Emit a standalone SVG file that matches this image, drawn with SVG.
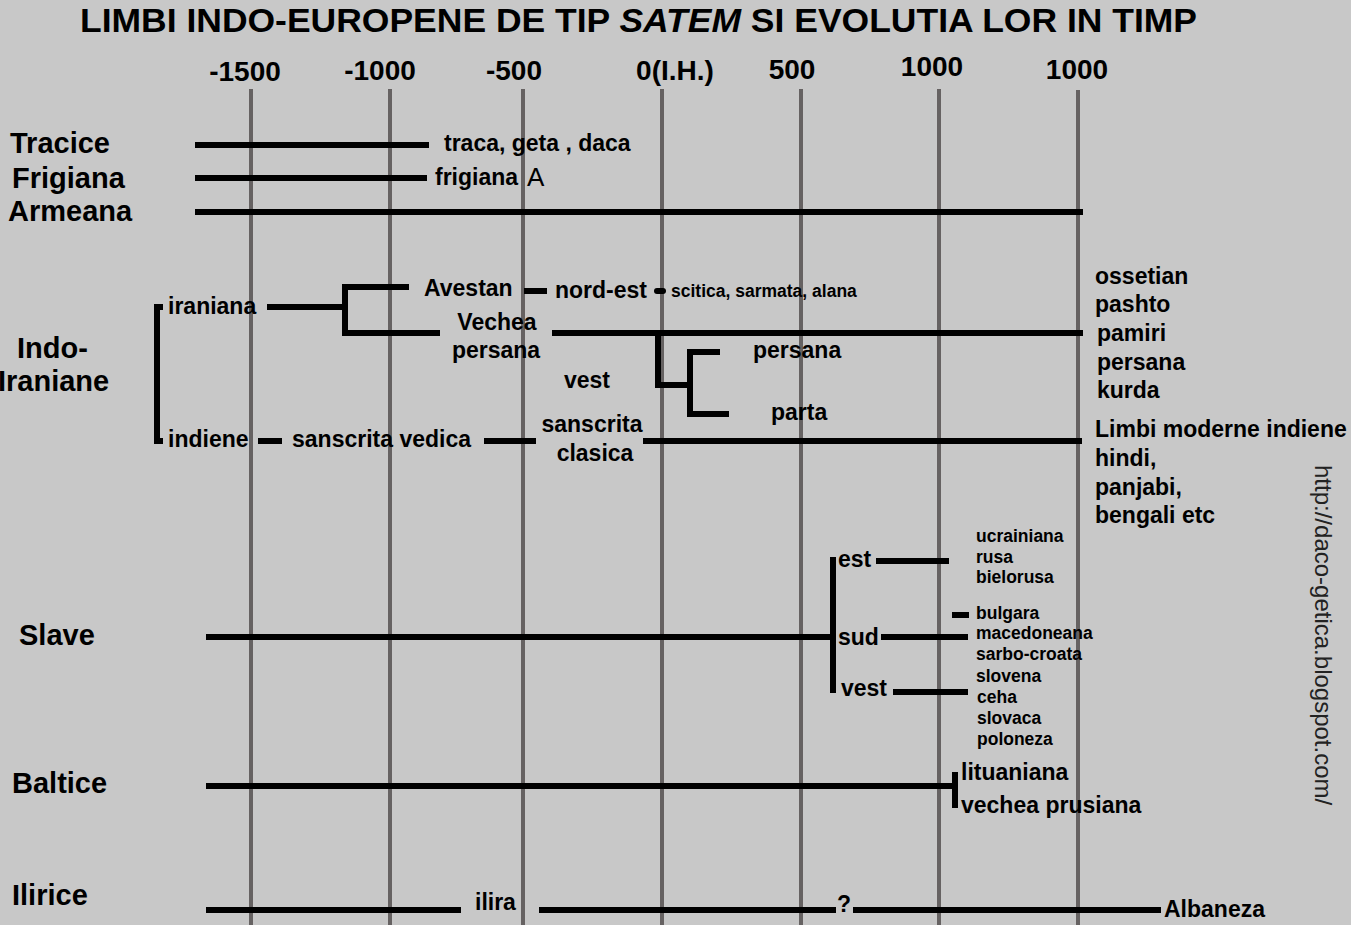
<svg xmlns="http://www.w3.org/2000/svg" width="1351" height="925" viewBox="0 0 1351 925">
<style>
text{font-family:"Liberation Sans",Arial,sans-serif;font-weight:bold;fill:#000}
.t{font-size:33px}
.tk{font-size:28px;text-anchor:middle}
.g{font-size:29px}
.m{font-size:23px}
.s{font-size:17.5px}
.c{text-anchor:middle}
.url{font-size:24px;font-weight:normal;fill:#222}
.grid line{stroke:#666262;stroke-width:4}
.conn line,.conn path{stroke:#000;stroke-width:6;fill:none}
</style>
<rect width="1351" height="925" fill="#c8c8c8"/>
<g id="title"><text class="t" x="80" y="32" textLength="1117" lengthAdjust="spacingAndGlyphs">LIMBI INDO-EUROPENE DE TIP <tspan font-style="italic">SATEM</tspan> SI EVOLUTIA LOR IN TIMP</text></g>
<g id="axis">
<text class="tk" x="245" y="81">-1500</text>
<text class="tk" x="380" y="80">-1000</text>
<text class="tk" x="514" y="80">-500</text>
<text class="tk" x="675" y="80">0(I.H.)</text>
<text class="tk" x="792" y="79">500</text>
<text class="tk" x="932" y="76">1000</text>
<text class="tk" x="1077" y="79">1000</text>
</g>
<g class="grid" id="grid">
<line x1="251" y1="89" x2="251" y2="925"/>
<line x1="390" y1="89" x2="390" y2="925"/>
<line x1="523" y1="89" x2="523" y2="925"/>
<line x1="662" y1="89" x2="662" y2="925"/>
<line x1="801" y1="89" x2="801" y2="925"/>
<line x1="939" y1="89" x2="939" y2="925"/>
<line x1="1078" y1="90" x2="1078" y2="925"/>
</g>
<g class="conn" id="connectors">
<line x1="195" y1="145" x2="429" y2="145"/>
<line x1="195" y1="178" x2="427" y2="178"/>
<line x1="195" y1="212" x2="1083" y2="212"/>
<line x1="267" y1="307" x2="345" y2="307"/>
<path d="M409,287 H345 V333 H440"/>
<line x1="552" y1="333" x2="1083" y2="333"/>
<line x1="524" y1="291" x2="547" y2="291"/>
<line x1="657" y1="291" x2="663" y2="291" stroke-linecap="round"/>
<path d="M163,307 H157 V441 H163"/>
<path d="M658,333 V385 H690"/>
<path d="M720,352 H690 V414 H729"/>
<line x1="258" y1="441" x2="282" y2="441"/>
<line x1="484" y1="441" x2="536" y2="441"/>
<line x1="643" y1="441" x2="1082" y2="441"/>
<line x1="206" y1="637" x2="835" y2="637"/>
<line x1="833" y1="557" x2="833" y2="693"/>
<line x1="876" y1="561" x2="949" y2="561"/>
<line x1="881" y1="637" x2="968" y2="637"/>
<line x1="893" y1="692" x2="968" y2="692"/>
<line x1="952" y1="615" x2="969" y2="615"/>
<line x1="206" y1="786" x2="957" y2="786"/>
<line x1="955" y1="772" x2="955" y2="808"/>
<line x1="206" y1="910" x2="461" y2="910"/>
<line x1="539" y1="910" x2="836" y2="910"/>
<line x1="853" y1="910" x2="1161" y2="910"/>
</g>
<g id="tracice"><text class="g" x="10" y="153">Tracice</text><text class="m" x="444" y="151">traca, geta , daca</text></g>
<g id="frigiana"><text class="g" x="12" y="188">Frigiana</text><text class="m" x="435" y="185">frigiana</text><text x="527" y="186" style="font-size:26px;font-weight:normal">A</text></g>
<g id="armeana"><text class="g" x="8" y="221">Armeana</text></g>
<g id="indo-iraniane"><text class="g" x="17" y="358">Indo-</text><text class="g" x="-2" y="391">Iraniane</text></g>
<g id="iraniana"><text class="m" x="168" y="314">iraniana</text></g>
<g id="avestan"><text class="m" x="424" y="296">Avestan</text></g>
<g id="nord-est"><text class="m" x="555" y="298">nord-est</text></g>
<g id="scitica"><text class="s" x="671" y="297">scitica, sarmata, alana</text></g>
<g id="vechea-persana"><text class="m c" x="497" y="330">Vechea</text><text class="m c" x="496" y="358">persana</text></g>
<g id="vest-iran"><text class="m" x="564" y="388">vest</text></g>
<g id="persana"><text class="m" x="753" y="358">persana</text></g>
<g id="parta"><text class="m" x="771" y="420">parta</text></g>
<g id="iran-modern">
<text class="m" x="1095" y="284">ossetian</text>
<text class="m" x="1095" y="312">pashto</text>
<text class="m" x="1097" y="341">pamiri</text>
<text class="m" x="1097" y="370">persana</text>
<text class="m" x="1097" y="398">kurda</text>
</g>
<g id="indiene"><text class="m" x="168" y="447">indiene</text></g>
<g id="sanscrita-vedica"><text class="m" x="292" y="447">sanscrita vedica</text></g>
<g id="sanscrita-clasica"><text class="m c" x="592" y="432">sanscrita</text><text class="m c" x="595" y="461">clasica</text></g>
<g id="indian-modern">
<text class="m" x="1095" y="437">Limbi moderne indiene</text>
<text class="m" x="1095" y="466">hindi,</text>
<text class="m" x="1095" y="495">panjabi,</text>
<text class="m" x="1095" y="523">bengali etc</text>
</g>
<g id="url"><text class="url" transform="translate(1315,465) rotate(90)">http://daco-getica.blogspot.com/</text></g>
<g id="slave"><text class="g" x="19" y="645">Slave</text></g>
<g id="est"><text class="m" x="838" y="567">est</text></g>
<g id="sud"><text class="m" x="838" y="645">sud</text></g>
<g id="vest-slav"><text class="m" x="841" y="696">vest</text></g>
<g id="slavic-list">
<text class="s" x="976" y="542">ucrainiana</text>
<text class="s" x="976" y="563">rusa</text>
<text class="s" x="976" y="583">bielorusa</text>
<text class="s" x="976" y="619">bulgara</text>
<text class="s" x="976" y="639">macedoneana</text>
<text class="s" x="976" y="660">sarbo-croata</text>
<text class="s" x="976" y="682">slovena</text>
<text class="s" x="977" y="703">ceha</text>
<text class="s" x="977" y="724">slovaca</text>
<text class="s" x="977" y="745">poloneza</text>
</g>
<g id="baltice"><text class="g" x="12" y="793">Baltice</text></g>
<g id="baltic-list"><text class="m" x="961" y="780">lituaniana</text><text class="m" x="961" y="813">vechea prusiana</text></g>
<g id="ilirice"><text class="g" x="12" y="905">Ilirice</text></g>
<g id="ilira"><text class="m" x="475" y="910">ilira</text></g>
<g id="question"><text class="m" x="837" y="912">?</text></g>
<g id="albaneza"><text class="m" x="1164" y="917">Albaneza</text></g>
</svg>
